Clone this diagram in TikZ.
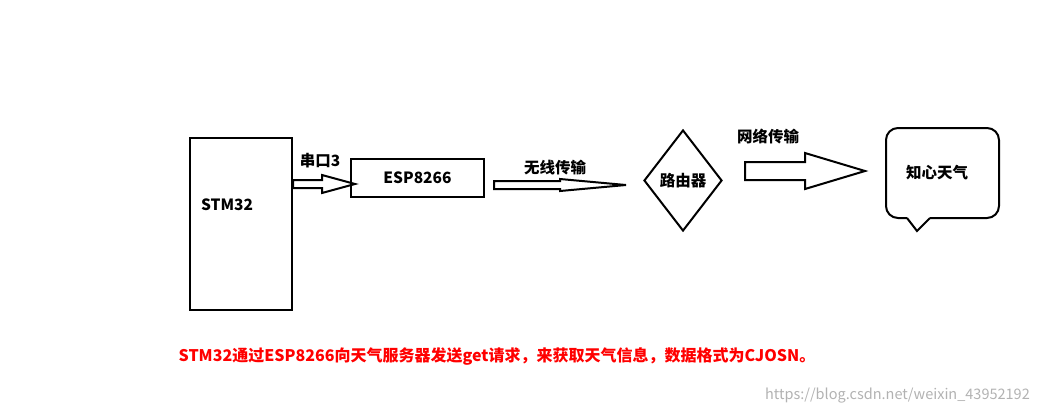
\documentclass[tikz,border=0pt]{standalone}
\usepackage{fontspec}
\setmainfont{Noto Sans CJK SC}
\usetikzlibrary{shapes.geometric, positioning, calc}

% block arrow from (#1) to (#2): shaft half width #3, head half width #4, head length #5
\newcommand{\blockarrow}[5]{%
  \draw[line width=2pt, line join=miter]
    ($(#1)+(0,#3)$) -- ($(#2)+(-#5,#3)$) -- ($(#2)+(-#5,#4)$) -- (#2)
    -- ($(#2)+(-#5,-#4)$) -- ($(#2)+(-#5,-#3)$) -- ($(#1)+(0,-#3)$) -- cycle;}

\begin{document}
\begin{tikzpicture}[
    x=1pt, y=-1pt,
    every node/.style={font=\fontsize{15.5}{18}\selectfont\bfseries},
    box/.style={draw, line width=2pt, inner sep=0pt},
    lbl/.style={inner sep=0pt}
]
    \useasboundingbox (0,0) rectangle (1038,416);

    % Boxes
    \node[box, minimum width=102pt, minimum height=172pt] (stm) at (241,224) {};
    \node[lbl] (stmtext) at (227,205) {STM32};
    \node[box, minimum width=133pt, minimum height=38pt] (esp) at (417.5,178) {ESP8266};
    \node[draw, diamond, line width=2pt, minimum width=78pt, minimum height=101pt,
          aspect=0.77, inner sep=0pt] (router) at (683,180.5) {路由器};

    % Callout
    \draw[line width=2pt, rounded corners=12pt]
      (907,218) -- (886,218) -- (886,128) -- (999,128) -- (999,218) -- (930,218);
    \draw[line width=2pt] (907,218) -- (917,231) -- (930,218);
    \node[lbl] (weather) at (937,173) {知心天气};

    % Anchor points for arrows
    \coordinate (a1s) at (293,184);
    \coordinate (a1e) at (355,184);
    \coordinate (a2s) at (494,185);
    \coordinate (a2e) at (626,185);
    \coordinate (a3s) at (745,171);
    \coordinate (a3e) at (865,171);

    % Arrows
    \blockarrow{a1s}{a1e}{4}{9}{33}
    \blockarrow{a2s}{a2e}{4}{6}{66}
    \blockarrow{a3s}{a3e}{9}{18}{60}

    % Labels
    \node[lbl] (serial) at (320,161) {串口3};
    \node[lbl] (wifi) at (555,168) {无线传输};
    \node[lbl] (net) at (768,137) {网络传输};

    \node[lbl, text=red, font=\fontsize{16}{19}\selectfont\bfseries] (note) at (497,356)
      {STM32通过ESP8266向天气服务器发送get请求，来获取天气信息，数据格式为CJOSN。};
    \node[lbl, text=gray!60, font=\fontsize{14.5}{17}\selectfont, anchor=east] (mark) at (1030,396)
      {https://blog.csdn.net/weixin\_43952192};
\end{tikzpicture}
\end{document}
